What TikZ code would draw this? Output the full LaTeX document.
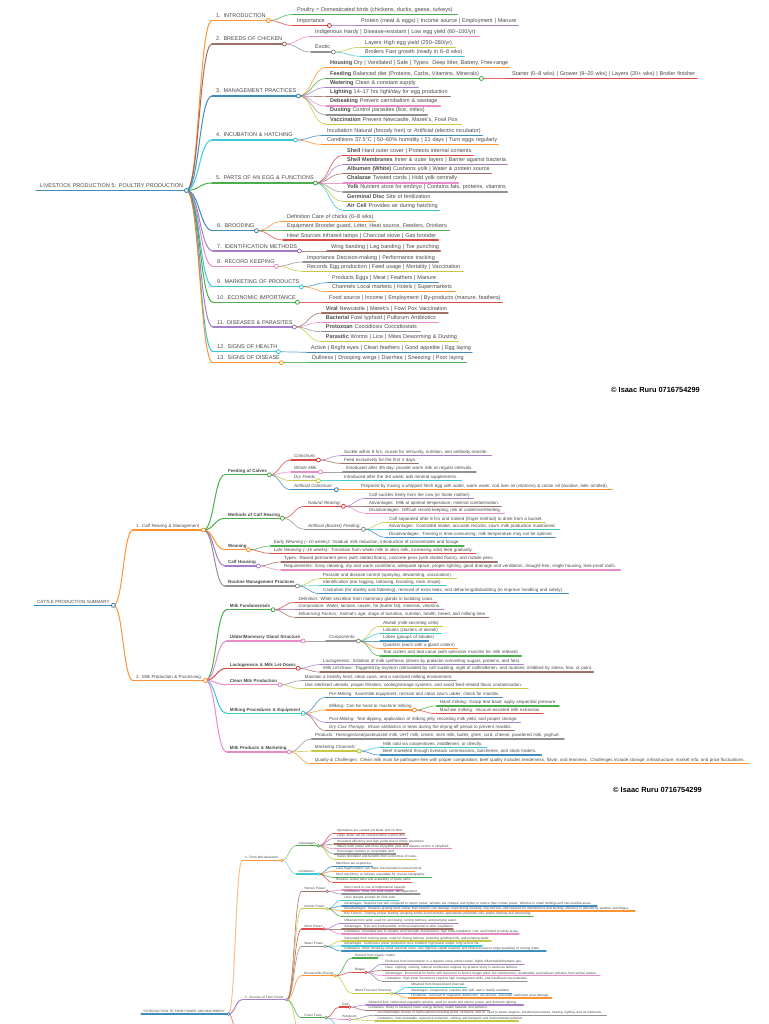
\documentclass[tikz,border=0pt]{standalone}
\usepackage{fontspec}
\setmainfont{Liberation Sans}
\usetikzlibrary{calc}
\definecolor{cOrange}{HTML}{FF7F0E}
\definecolor{cGreen}{HTML}{2CA02C}
\definecolor{cRed}{HTML}{D62728}
\definecolor{cPurple}{HTML}{9467BD}
\definecolor{cBrown}{HTML}{8C564B}
\definecolor{cPink}{HTML}{E377C2}
\definecolor{cGray}{HTML}{7F7F7F}
\definecolor{cYellow}{HTML}{BCBD22}
\definecolor{cCyan}{HTML}{17BECF}
\definecolor{cBlue}{HTML}{1F77B4}
\tikzset{
  lbl/.style={anchor=south west,inner xsep=0pt,text=black!72,
    execute at begin node={\noindent\kern#1pt\hbox\bgroup},execute at end node=\egroup},
  lblA/.style={lbl=4,font=\fontsize{5.5}{6}\selectfont,text depth=1.2pt,inner ysep=1.6pt},
  lblB/.style={lbl=3,font=\fontsize{4.45}{5}\selectfont,text depth=.9pt,inner ysep=1.2pt},
  lblC/.style={lbl=2.5,font=\fontsize{3.2}{4}\selectfont,text depth=.7pt,inner ysep=.7pt},
  rule/.style={line width=1.1pt,line cap=round,opacity=.85},
  item/.style 2 args={text width=#1pt,
    append after command={(\tikzlastnode.south west) edge[rule,#2] (\tikzlastnode.south east)}},
  link/.style={line width=.7pt,opacity=.7,to path={let \p1=(\tikztostart),\p2=(\tikztotarget) in
    .. controls ({.5*(\x1+\x2)},\y1) and ({.5*(\x1+\x2)},\y2) .. (\tikztotarget)}},
  linkTop/.style={link,line width=1pt,opacity=.85},
  knot/.style={circle,fill=white,line width=.7pt,inner sep=0pt,minimum size=4pt},
  knotC/.style={knot,line width=.5pt,minimum size=2.8pt},
  mark line/.style={anchor=west,font=\fontsize{7.4}{8}\selectfont\bfseries,inner sep=0pt}
}
\begin{document}
\begin{tikzpicture}[x=1pt,y=-1pt]
  \useasboundingbox (0,0) rectangle (768,1024);
  \clip (0,0) rectangle (768,1024);
  % poultry
  \begin{scope}[every node/.append style={lblA}]
    \node[item={150}{cBlue}] (p0) at (36,190.5) {LIVESTOCK PRODUCTION 5: POULTRY PRODUCTION};
    \node[item={56}{cOrange}] (p1) at (212,20.5) {1. INTRODUCTION};
    \node[item={164}{cGreen}] (p1a) at (293,14.5) {Poultry = Domesticated birds (chickens, ducks, geese, turkeys)};
    \node[item={36}{cRed}] (p1b) at (293,25.5) {Importance};
    \node[item={161}{cPurple}] (p1b1) at (357,25.5) {Protein (meat \& eggs) | Income source | Employment | Manure};
    \node[item={72}{cBrown}] (p2) at (212,44) {2. BREEDS OF CHICKEN};
    \node[item={168}{cPink}] (p2a) at (311,36.5) {Indigenous Hardy | Disease-resistant | Low egg yield (60–100/yr)};
    \node[item={22}{cGray}] (p2b) at (311,52) {Exotic};
    \node[item={94}{cYellow}] (p2b1) at (361,47.3) {Layers High egg yield (250–280/yr)};
    \node[item={103}{cCyan}] (p2b2) at (361,56.3) {Broilers Fast growth (ready in 6–8 wks)};
    \node[item={86}{cBlue}] (p3) at (212,96) {3. MANAGEMENT PRACTICES};
    \node[item={183}{cOrange}] (p3a) at (326,67.5) {\textbf{Housing} Dry | Ventilated | Safe | Types: Deep litter, Battery, Free-range};
    \node[item={155}{cGreen}] (p3b) at (326,78.5) {\textbf{Feeding} Balanced diet (Proteins, Carbs, Vitamins, Minerals)};
    \node[item={189}{cRed}] (p3b1) at (508,78.5) {Starter (0–8 wks) | Grower (9–20 wks) | Layers (20+ wks) | Broiler finisher};
    \node[item={92}{cPurple}] (p3c) at (326,87.5) {\textbf{Watering} Clean \& constant supply};
    \node[item={124}{cBrown}] (p3d) at (326,96.7) {\textbf{Lighting} 14–17 hrs light/day for egg production};
    \node[item={114}{cPink}] (p3e) at (326,106) {\textbf{Debeaking} Prevent cannibalism \& wastage};
    \node[item={101}{cGray}] (p3f) at (326,115) {\textbf{Dusting} Control parasites (lice, mites)};
    \node[item={135}{cYellow}] (p3g) at (326,124.3) {\textbf{Vaccination} Prevent Newcastle, Marek's, Fowl Pox};
    \node[item={83}{cCyan}] (p4) at (212,140) {4. INCUBATION \& HATCHING};
    \node[item={159}{cBlue}] (p4a) at (323,135.5) {Incubation Natural (broody hen) or Artificial (electric incubator)};
    \node[item={175}{cOrange}] (p4b) at (323,144.5) {Conditions 37.5°C | 50–60\% humidity | 21 days | Turn eggs regularly};
    \node[item={103}{cGreen}] (p5) at (212,183) {5. PARTS OF AN EGG \& FUNCTIONS};
    \node[item={130}{cRed}] (p5a) at (343,155.3) {\textbf{Shell} Hard outer cover | Protects internal contents};
    \node[item={164}{cPurple}] (p5b) at (343,164.7) {\textbf{Shell Membranes} Inner \& outer layers | Barrier against bacteria};
    \node[item={148}{cBrown}] (p5c) at (343,173.7) {\textbf{Albumen (White)} Cushions yolk | Water \& protein source};
    \node[item={115}{cPink}] (p5d) at (343,183) {\textbf{Chalazae} Twisted cords | Hold yolk centrally};
    \node[item={164}{cGray}] (p5e) at (343,192) {\textbf{Yolk} Nutrient store for embryo | Contains fats, proteins, vitamins};
    \node[item={89}{cYellow}] (p5f) at (343,201.3) {\textbf{Germinal Disc} Site of fertilization};
    \node[item={96}{cCyan}] (p5g) at (343,210.3) {\textbf{Air Cell} Provides air during hatching};
    \node[item={43}{cBlue}] (p6) at (213,230.7) {6. BROODING};
    \node[item={92}{cOrange}] (p6a) at (283,221.3) {Definition Care of chicks (0–8 wks)};
    \node[item={166}{cGreen}] (p6b) at (283,230.7) {Equipment Brooder guard, Litter, Heat source, Feeders, Drinkers};
    \node[item={155}{cRed}] (p6c) at (283,240) {Heat Sources Infrared lamps | Charcoal stove | Gas brooder};
    \node[item={86}{cPurple}] (p7) at (213,251) {7. IDENTIFICATION METHODS};
    \node[item={113}{cBrown}] (p7a) at (327,251) {Wing banding | Leg banding | Toe punching};
    \node[item={63}{cPink}] (p8) at (213,266.3) {8. RECORD KEEPING};
    \node[item={135}{cGray}] (p8a) at (303,262) {Importance Decision-making | Performance tracking};
    \node[item={160}{cYellow}] (p8b) at (303,271.3) {Records Egg production | Feed usage | Mortality | Vaccination};
    \node[item={88}{cCyan}] (p9) at (213,286.7) {9. MARKETING OF PRODUCTS};
    \node[item={110}{cBlue}] (p9a) at (328,282.7) {Products Eggs | Meat | Feathers | Manure};
    \node[item={127}{cOrange}] (p9b) at (328,291.7) {Channels Local markets | Hotels | Supermarkets};
    \node[item={84}{cGreen}] (p10) at (213,302.3) {10. ECONOMIC IMPORTANCE};
    \node[item={177}{cRed}] (p10a) at (325,302.3) {Food source | Income | Employment | By-products (manure, feathers)};
    \node[item={81}{cPurple}] (p11) at (213,327) {11. DISEASES \& PARASITES};
    \node[item={126}{cBrown}] (p11a) at (321.7,313) {\textbf{Viral} Newcastle | Marek's | Fowl Pox Vaccination};
    \node[item={116}{cPink}] (p11b) at (321.7,322.3) {\textbf{Bacterial} Fowl typhoid | Pullorum Antibiotics};
    \node[item={98}{cGray}] (p11c) at (321.7,331.7) {\textbf{Protozoan} Coccidiosis Coccidiostats};
    \node[item={136}{cYellow}] (p11d) at (321.7,341.7) {\textbf{Parasitic} Worms | Lice | Mites Deworming \& Dusting};
    \node[item={65}{cCyan}] (p12) at (213,351.7) {12. SIGNS OF HEALTH};
    \node[item={165}{cBlue}] (p12a) at (306.7,352.3) {Active | Bright eyes | Clean feathers | Good appetite | Egg laying};
    \node[item={68}{cOrange}] (p13) at (213,362.7) {13. SIGNS OF DISEASE};
    \node[item={158}{cGreen}] (p13a) at (308,362.7) {Dullness | Drooping wings | Diarrhea | Sneezing | Poor laying};
  \end{scope}
  \node[mark line] (m1) at (611,389.5) {© Isaac Ruru 0716754299};
  \begin{scope}
    \draw[linkTop,cOrange] (p0.south east) to (p1.south west);
    \draw[linkTop,cBrown] (p0.south east) to (p2.south west);
    \draw[linkTop,cBlue] (p0.south east) to (p3.south west);
    \draw[linkTop,cCyan] (p0.south east) to (p4.south west);
    \draw[linkTop,cGreen] (p0.south east) to (p5.south west);
    \draw[linkTop,cBlue] (p0.south east) to (p6.south west);
    \draw[linkTop,cPurple] (p0.south east) to (p7.south west);
    \draw[linkTop,cPink] (p0.south east) to (p8.south west);
    \draw[linkTop,cCyan] (p0.south east) to (p9.south west);
    \draw[linkTop,cGreen] (p0.south east) to (p10.south west);
    \draw[linkTop,cPurple] (p0.south east) to (p11.south west);
    \draw[linkTop,cCyan] (p0.south east) to (p12.south west);
    \draw[linkTop,cOrange] (p0.south east) to (p13.south west);
    \draw[link,cGreen] (p1.south east) to (p1a.south west);
    \draw[link,cRed] (p1.south east) to (p1b.south west);
    \draw[link,cPurple] (p1b.south east) to (p1b1.south west);
    \draw[link,cPink] (p2.south east) to (p2a.south west);
    \draw[link,cGray] (p2.south east) to (p2b.south west);
    \draw[link,cYellow] (p2b.south east) to (p2b1.south west);
    \draw[link,cCyan] (p2b.south east) to (p2b2.south west);
    \draw[link,cOrange] (p3.south east) to (p3a.south west);
    \draw[link,cGreen] (p3.south east) to (p3b.south west);
    \draw[link,cRed] (p3b.south east) to (p3b1.south west);
    \draw[link,cPurple] (p3.south east) to (p3c.south west);
    \draw[link,cBrown] (p3.south east) to (p3d.south west);
    \draw[link,cPink] (p3.south east) to (p3e.south west);
    \draw[link,cGray] (p3.south east) to (p3f.south west);
    \draw[link,cYellow] (p3.south east) to (p3g.south west);
    \draw[link,cBlue] (p4.south east) to (p4a.south west);
    \draw[link,cOrange] (p4.south east) to (p4b.south west);
    \draw[link,cRed] (p5.south east) to (p5a.south west);
    \draw[link,cPurple] (p5.south east) to (p5b.south west);
    \draw[link,cBrown] (p5.south east) to (p5c.south west);
    \draw[link,cPink] (p5.south east) to (p5d.south west);
    \draw[link,cGray] (p5.south east) to (p5e.south west);
    \draw[link,cYellow] (p5.south east) to (p5f.south west);
    \draw[link,cCyan] (p5.south east) to (p5g.south west);
    \draw[link,cOrange] (p6.south east) to (p6a.south west);
    \draw[link,cGreen] (p6.south east) to (p6b.south west);
    \draw[link,cRed] (p6.south east) to (p6c.south west);
    \draw[link,cBrown] (p7.south east) to (p7a.south west);
    \draw[link,cGray] (p8.south east) to (p8a.south west);
    \draw[link,cYellow] (p8.south east) to (p8b.south west);
    \draw[link,cBlue] (p9.south east) to (p9a.south west);
    \draw[link,cOrange] (p9.south east) to (p9b.south west);
    \draw[link,cRed] (p10.south east) to (p10a.south west);
    \draw[link,cBrown] (p11.south east) to (p11a.south west);
    \draw[link,cPink] (p11.south east) to (p11b.south west);
    \draw[link,cGray] (p11.south east) to (p11c.south west);
    \draw[link,cYellow] (p11.south east) to (p11d.south west);
    \draw[link,cBlue] (p12.south east) to (p12a.south west);
    \draw[link,cGreen] (p13.south east) to (p13a.south west);
  \end{scope}
  % cattle
  \begin{scope}[every node/.append style={lblB}]
    \node[item={79}{cBlue}] (c0) at (34,605.3) {CATTLE PRODUCTION SUMMARY};
    \node[item={70}{cOrange}] (c1) at (133,530) {1. Calf Rearing \& Management};
    \node[item={72}{cOrange}] (c2) at (133,680.5) {2. Milk Production \& Processing};
    \node[item={44}{cGreen}] (c1a) at (225,474.7) {\textbf{Feeding of Calves}};
    \node[item={27}{cRed}] (c1a1) at (291,460) {\textit{Colostrum:}};
    \node[item={150}{cPurple}] (c1a1a) at (341,455.7) {Suckle within 8 hrs; crucial for immunity, nutrition, and antibody transfer.};
    \node[item={77}{cBrown}] (c1a1b) at (341,463.3) {Feed exclusively for the first 4 days.};
    \node[item={29}{cPink}] (c1a2) at (291,472) {\textit{Whole Milk:}};
    \node[item={133}{cGray}] (c1a2a) at (342.7,472) {Introduced after 4th day; provide warm milk at regular intervals.};
    \node[item={27}{cYellow}] (c1a3) at (291,480.7) {\textit{Dry Feeds:}};
    \node[item={120}{cCyan}] (c1a3a) at (341,480.7) {Introduced after the 3rd week; add mineral supplements.};
    \node[item={45}{cBlue}] (c1a4) at (291,489.7) {\textit{Artificial Colostrum:}};
    \node[item={254}{cOrange}] (c1a4a) at (358,489.7) {Prepared by mixing a whipped fresh egg with water, warm water, cod liver oil (vitamins) \& castor oil (laxative, later omitted).};
    \node[item={57}{cGreen}] (c1b) at (225,518.3) {\textbf{Methods of Calf Rearing}};
    \node[item={38}{cRed}] (c1b1) at (305,506.3) {\textit{Natural Rearing:}};
    \node[item={107}{cPurple}] (c1b1a) at (366,498.3) {Calf suckles freely from the cow (or foster mother).};
    \node[item={135}{cBrown}] (c1b1b) at (366,506.3) {Advantages: Milk at optimal temperature; minimal contamination.};
    \node[item={138}{cPink}] (c1b1c) at (366,513.3) {Disadvantages: Difficult record-keeping; risk of under/overfeeding.};
    \node[item={58}{cGray}] (c1b2) at (305,529.3) {\textit{Artificial (Bucket) Feeding:}};
    \node[item={159}{cYellow}] (c1b2a) at (386,522.3) {Calf separated after 6 hrs and trained (finger method) to drink from a bucket.};
    \node[item={173}{cCyan}] (c1b2b) at (386,529.3) {Advantages: Controlled intake; accurate records; cow's milk production maintained.};
    \node[item={169}{cBlue}] (c1b2c) at (386,537.3) {Disadvantages: Training is time-consuming; milk temperature may not be optimal.};
    \node[item={23}{cOrange}] (c1c) at (225,549.7) {\textbf{Weaning}};
    \node[item={193}{cGreen}] (c1c1) at (270.7,546) {\textit{Early Weaning (\textasciitilde10 weeks):} Gradual milk reduction; introduction of concentrates and forage.};
    \node[item={205}{cRed}] (c1c2) at (270.7,553.3) {\textit{Late Weaning (\textasciitilde16 weeks):} Transition from whole milk to skim milk; increasing solid feed gradually.};
    \node[item={33}{cPurple}] (c1d) at (225,566) {\textbf{Calf Housing}};
    \node[item={216}{cBrown}] (c1d1) at (281,562) {Types: Raised permanent pens (with slatted floors), concrete pens (with slatted floors), and mobile pens.};
    \node[item={339}{cPink}] (c1d2) at (281,570) {Requirements: Easy cleaning, dry and warm conditions, adequate space, proper lighting, good drainage and ventilation, draught-free, single housing, leak-proof roofs.};
    \node[item={72}{cGray}] (c1e) at (225,586) {\textbf{Routine Management Practices}};
    \node[item={136}{cYellow}] (c1e1) at (320,578.7) {Parasite and disease control (spraying, deworming, vaccination).};
    \node[item={126}{cCyan}] (c1e2) at (320,585.7) {Identification (ear tagging, tattooing, branding, neck straps).};
    \node[item={248}{cBlue}] (c1e3) at (320,593.7) {Castration (for docility and fattening), removal of extra teats, and dehorning/disbudding (to improve handling and safety).};
    \node[item={46}{cGreen}] (c2a) at (226.7,609.7) {\textbf{Milk Fundamentals}};
    \node[item={141}{cRed}] (c2a1) at (295.3,602.3) {\textit{Definition:} White secretion from mammary glands in lactating cows.};
    \node[item={148}{cPurple}] (c2a2) at (295.3,609.7) {\textit{Composition:} Water, lactose, casein, fat (butter fat), minerals, vitamins.};
    \node[item={193}{cBrown}] (c2a3) at (295.3,617.3) {\textit{Influencing Factors:} Animal's age, stage of lactation, nutrition, health, breed, and milking time.};
    \node[item={76}{cPink}] (c2b) at (226.7,641) {\textbf{Udder/Mammary Gland Structure}};
    \node[item={32}{cGray}] (c2b1) at (326,641) {\textit{Components:}};
    \node[item={62}{cYellow}] (c2b1a) at (380,626.3) {Alveoli (milk-secreting cells)};
    \node[item={61}{cCyan}] (c2b1b) at (380,633.7) {Lobules (clusters of alveoli)};
    \node[item={48}{cBlue}] (c2b1c) at (380,641) {Lobes (groups of lobules)};
    \node[item={77}{cOrange}] (c2b1d) at (380,648.7) {Quarters (each with a gland cistern)};
    \node[item={141}{cGreen}] (c2b1e) at (380,656) {Teat cistern and teat canal (with sphincter muscles for milk release)};
    \node[item={71}{cRed}] (c2c) at (226.7,668.3) {\textbf{Lactogenesis \& Milk Let-Down:}};
    \node[item={203}{cPurple}] (c2c1) at (320,664.7) {\textit{Lactogenesis:} Initiation of milk synthesis (driven by prolactin converting sugars, proteins, and fats).};
    \node[item={273}{cBrown}] (c2c2) at (320,672) {\textit{Milk Let-Down:} Triggered by oxytocin (stimulated by calf suckling, sight of calf/milkmen, and routines; inhibited by stress, fear, or pain).};
    \node[item={53}{cPink}] (c2d) at (226.7,684.7) {\textbf{Clean Milk Production}};
    \node[item={154}{cGray}] (c2d1) at (301.7,680.7) {Maintain a healthy herd, clean cows, and a sanitized milking environment.};
    \node[item={226}{cYellow}] (c2d2) at (301.7,688.7) {Use sterilized utensils, proper filtration, cooling/storage systems, and avoid feed-related flavor contamination.};
    \node[item={76}{cCyan}] (c2e) at (226.7,713.3) {\textbf{Milking Procedures \& Equipment}};
    \node[item={176}{cBlue}] (c2e1) at (326,697.3) {\textit{Pre-Milking:} Assemble equipment; restrain and clean cow's udder; check for mastitis.};
    \node[item={88}{cOrange}] (c2e2) at (326,710) {\textit{Milking:} Can be hand or machine milking.};
    \node[item={122}{cGreen}] (c2e2a) at (436.7,706) {Hand milking: Grasp teat base; apply sequential pressure.};
    \node[item={106}{cRed}] (c2e2b) at (436.7,713.7) {Machine milking: Vacuum-assisted milk extraction.};
    \node[item={194}{cPurple}] (c2e3) at (326,722.3) {\textit{Post-Milking:} Teat dipping, application of milking jelly, recording milk yield, and proper storage.};
    \node[item={188}{cBrown}] (c2e4) at (326,730.7) {\textit{Dry Cow Therapy:} Infuse antibiotics in teats during the drying-off period to prevent mastitis.};
    \node[item={62}{cPink}] (c2f) at (226.7,752) {\textbf{Milk Products \& Marketing}};
    \node[item={252}{cGray}] (c2f1) at (311.7,739) {\textit{Products:} Homogenized/pasteurized milk, UHT milk, cream, skim milk, butter, ghee, curd, cheese, powdered milk, yoghurt.};
    \node[item={47}{cYellow}] (c2f2) at (311.7,751) {\textit{Marketing Channels:}};
    \node[item={106}{cCyan}] (c2f2a) at (380,747.7) {Milk sold via cooperatives, middlemen, or directly.};
    \node[item={161}{cBlue}] (c2f2b) at (380,755) {Beef marketed through livestock commissions, butcheries, and stock traders.};
    \node[item={437}{cOrange}] (c2f3) at (311.7,763.7) {\textit{Quality \& Challenges:} Clean milk must be pathogen-free with proper composition; beef quality includes tenderness, flavor, and leanness. Challenges include storage, infrastructure, market info, and price fluctuations.};
  \end{scope}
  \node[mark line] (m2) at (613,789.5) {© Isaac Ruru 0716754299};
  \begin{scope}
    \draw[linkTop,cOrange] (c0.south east) to (c1.south west);
    \draw[linkTop,cOrange] (c0.south east) to (c2.south west);
    \draw[linkTop,cGreen] (c1.south east) to (c1a.south west);
    \draw[link,cRed] (c1a.south east) to (c1a1.south west);
    \draw[link,cPurple] (c1a1.south east) to (c1a1a.south west);
    \draw[link,cBrown] (c1a1.south east) to (c1a1b.south west);
    \draw[link,cPink] (c1a.south east) to (c1a2.south west);
    \draw[link,cGray] (c1a2.south east) to (c1a2a.south west);
    \draw[link,cYellow] (c1a.south east) to (c1a3.south west);
    \draw[link,cCyan] (c1a3.south east) to (c1a3a.south west);
    \draw[link,cBlue] (c1a.south east) to (c1a4.south west);
    \draw[link,cOrange] (c1a4.south east) to (c1a4a.south west);
    \draw[linkTop,cGreen] (c1.south east) to (c1b.south west);
    \draw[link,cRed] (c1b.south east) to (c1b1.south west);
    \draw[link,cPurple] (c1b1.south east) to (c1b1a.south west);
    \draw[link,cBrown] (c1b1.south east) to (c1b1b.south west);
    \draw[link,cPink] (c1b1.south east) to (c1b1c.south west);
    \draw[link,cGray] (c1b.south east) to (c1b2.south west);
    \draw[link,cYellow] (c1b2.south east) to (c1b2a.south west);
    \draw[link,cCyan] (c1b2.south east) to (c1b2b.south west);
    \draw[link,cBlue] (c1b2.south east) to (c1b2c.south west);
    \draw[linkTop,cOrange] (c1.south east) to (c1c.south west);
    \draw[link,cGreen] (c1c.south east) to (c1c1.south west);
    \draw[link,cRed] (c1c.south east) to (c1c2.south west);
    \draw[linkTop,cPurple] (c1.south east) to (c1d.south west);
    \draw[link,cBrown] (c1d.south east) to (c1d1.south west);
    \draw[link,cPink] (c1d.south east) to (c1d2.south west);
    \draw[linkTop,cGray] (c1.south east) to (c1e.south west);
    \draw[link,cYellow] (c1e.south east) to (c1e1.south west);
    \draw[link,cCyan] (c1e.south east) to (c1e2.south west);
    \draw[link,cBlue] (c1e.south east) to (c1e3.south west);
    \draw[linkTop,cGreen] (c2.south east) to (c2a.south west);
    \draw[link,cRed] (c2a.south east) to (c2a1.south west);
    \draw[link,cPurple] (c2a.south east) to (c2a2.south west);
    \draw[link,cBrown] (c2a.south east) to (c2a3.south west);
    \draw[linkTop,cPink] (c2.south east) to (c2b.south west);
    \draw[link,cGray] (c2b.south east) to (c2b1.south west);
    \draw[link,cYellow] (c2b1.south east) to (c2b1a.south west);
    \draw[link,cCyan] (c2b1.south east) to (c2b1b.south west);
    \draw[link,cBlue] (c2b1.south east) to (c2b1c.south west);
    \draw[link,cOrange] (c2b1.south east) to (c2b1d.south west);
    \draw[link,cGreen] (c2b1.south east) to (c2b1e.south west);
    \draw[linkTop,cRed] (c2.south east) to (c2c.south west);
    \draw[link,cPurple] (c2c.south east) to (c2c1.south west);
    \draw[link,cBrown] (c2c.south east) to (c2c2.south west);
    \draw[linkTop,cPink] (c2.south east) to (c2d.south west);
    \draw[link,cGray] (c2d.south east) to (c2d1.south west);
    \draw[link,cYellow] (c2d.south east) to (c2d2.south west);
    \draw[linkTop,cCyan] (c2.south east) to (c2e.south west);
    \draw[link,cBlue] (c2e.south east) to (c2e1.south west);
    \draw[link,cOrange] (c2e.south east) to (c2e2.south west);
    \draw[link,cGreen] (c2e2.south east) to (c2e2a.south west);
    \draw[link,cRed] (c2e2.south east) to (c2e2b.south west);
    \draw[link,cPurple] (c2e.south east) to (c2e3.south west);
    \draw[link,cBrown] (c2e.south east) to (c2e4.south west);
    \draw[linkTop,cPink] (c2.south east) to (c2f.south west);
    \draw[link,cGray] (c2f.south east) to (c2f1.south west);
    \draw[link,cYellow] (c2f.south east) to (c2f2.south west);
    \draw[link,cCyan] (c2f2.south east) to (c2f2a.south west);
    \draw[link,cBlue] (c2f2.south east) to (c2f2b.south west);
    \draw[link,cOrange] (c2f.south east) to (c2f3.south west);
  \end{scope}
  % farm power
  \begin{scope}[every node/.append style={lblC}]
    \node[item={87}{cBlue}] (f0) at (141,1014) {INTRODUCTION TO FARM POWER AND MACHINERY};
    \node[item={39}{cOrange}] (f1) at (242.3,860.3) {1. Farm Mechanization};
    \node[item={44}{cPurple}] (f2) at (242.3,999.7) {2. Sources of Farm Power};
    \node[item={22}{cGreen}] (f1a) at (296,845.7) {Advantages:};
    \node[item={70}{cRed}] (f1a1) at (334.3,833.3) {Operations are carried out faster and on time.};
    \node[item={72}{cPurple}] (f1a2) at (334.3,838.3) {Large areas can be covered within a short time.};
    \node[item={74}{cBrown}] (f1a3) at (334.3,844) {Increased efficiency and high yields due to timely operations.};
    \node[item={117}{cPink}] (f1a4) at (334.3,848.7) {Makes work easier and more enjoyable; pest and disease control is simplified.};
    \node[item={61}{cGray}] (f1a5) at (334.3,854) {Encourages farmers to consolidate land.};
    \node[item={82}{cYellow}] (f1a6) at (334.3,859.3) {Saves time/labor and benefits from economies of scale.};
    \node[item={22}{cCyan}] (f1b) at (296,874) {Limitations:};
    \node[item={39}{cBlue}] (f1b1) at (333.3,866.3) {Machines are expensive.};
    \node[item={81}{cOrange}] (f1b2) at (333.3,871.3) {Land fragmentation can make mechanization uneconomical.};
    \node[item={98}{cGreen}] (f1b3) at (333.3,877.3) {Most machinery on farmers unsuitable for uneven topography.};
    \node[item={78}{cRed}] (f1b4) at (333.3,882.3) {Requires skilled labor and availability of spare parts.};
    \node[item={25}{cBrown}] (f2a) at (301.7,891.3) {Human Power:};
    \node[item={61}{cPink}] (f2a1) at (341.7,890) {Direct work or use of implemental capacity.};
    \node[item={78}{cGray}] (f2a2) at (341.7,894) {Limitations: Slow, low work output, skill dependent.};
    \node[item={25}{cYellow}] (f2b) at (301.7,908.7) {Animal Power:};
    \node[item={57}{cCyan}] (f2b1) at (341.7,900.3) {Uses draught animals for field work.};
    \node[item={255}{cBlue}] (f2b2) at (341.7,906) {Advantages: Requires low skill compared to tractor power; animals are cheaper and lighter to reduce than human power; effective in small holdings and inaccessible areas.};
    \node[item={293}{cOrange}] (f2b3) at (341.7,911) {Disadvantages: Requires grazing land; slower than tractors; can damage crops during weeding; may fall sick; and required for maintenance and feeding; efficiency is affected by weather and fatigue.};
    \node[item={191}{cGreen}] (f2b4) at (341.7,916.3) {Key Factors: Training, proper feeding, grouping similar-sized animals, appropriate yoke/hitch size, proper hitching and harnessing.};
    \node[item={22}{cRed}] (f2c) at (301.7,929) {Wind Power:};
    \node[item={116}{cPurple}] (f2c1) at (341.7,923.3) {Obtained from wind; used for winnowing, turning turbines, and pumping water.};
    \node[item={111}{cBrown}] (f2c2) at (341.7,929) {Advantages: Free and inexhaustible; minimal maintenance after installation.};
    \node[item={177}{cPink}] (f2c3) at (341.7,934) {Limitations: Unreliable due to variable wind strength and direction; high initial installation cost; and limited to windy areas.};
    \node[item={23}{cGray}] (f2d) at (301.7,946.3) {Water Power:};
    \node[item={149}{cYellow}] (f2d1) at (341.7,941) {Generated from running water; used for driving turbines, powering grinding mills, and pumping water.};
    \node[item={140}{cCyan}] (f2d2) at (341.7,946) {Advantages: Continuous power production once installed; high power output; long service life.};
    \node[item={204}{cBlue}] (f2d3) at (341.7,951) {Limitations: Often limited by small seasonal rivers; very high/low capital required; and limited access to large quantities of moving water.};
    \node[item={33}{cOrange}] (f2e) at (301.7,975.7) {Biomass/Bio-Energy:};
    \node[item={25}{cGreen}] (f2e1) at (352.3,958) {Derived from organic matter};
    \node[item={13}{cRed}] (f2e2) at (352.3,972.3) {Biogas:};
    \node[item={141}{cPurple}] (f2e2a) at (382.7,964.3) {Produced from fermentation in a digester using animal waste; highly inflammable/methane gas.};
    \node[item={137}{cBrown}] (f2e2b) at (382.7,970.3) {Uses: Lighting, cooking, internal combustion engines; by-product slurry is useful as fertilizer.};
    \node[item={217}{cPink}] (f2e2c) at (382.7,975.7) {Advantages: Economical for farms with resources to build a biogas plant; low maintenance; sustainable; and reduces pollution from animal wastes.};
    \node[item={144}{cGray}] (f2e2d) at (382.7,981.3) {Limitations: High initial investment; requires high management skills, and insufficient raw materials.};
    \node[item={39}{cYellow}] (f2e3) at (352.3,993.3) {Wood Fuel and Charcoal:};
    \node[item={58}{cCyan}] (f2e3a) at (408.3,987.3) {Obtained from firewood and charcoal.};
    \node[item={103}{cBlue}] (f2e3b) at (408.3,993.3) {Advantages: Inexpensive; requires less skill, and is readily available.};
    \node[item={143}{cOrange}] (f2e3c) at (408.3,998) {Limitations: Can lead to vegetation destruction, soil erosion, and water catchment area damage.};
    \node[item={24}{cGreen}] (f2f) at (301.7,1017.7) {Fossil Fuels:};
    \node[item={10}{cRed}] (f2f1) at (339.3,1007) {Coal:};
    \node[item={157}{cPurple}] (f2f1a) at (366,1005) {Obtained from carbonized vegetable remains; used for steam and electric power, and domestic lighting.};
    \node[item={123}{cBrown}] (f2f1b) at (366,1010.3) {Limitations: Bulky to transport; lower energy density; health hazards; and pollution.};
    \node[item={10}{cPink}] (f2f2) at (339.3,1019.3) {Petroleum:};
    \node[item={231}{cGray}] (f2f2a) at (375,1015.3) {An inflammable mixture of hydrocarbons including petrol, kerosene, and oil, used to power engines, industrial processes, heating, lighting, and as lubricants.};
    \node[item={143}{cYellow}] (f2f2b) at (375,1021) {Limitations: Non-renewable, expensive extraction, refining and transport; and environmental pollution.};
  \end{scope}
  \coordinate (fa) at (240,1044);
  \coordinate (fb) at (304,1044);
  \coordinate (fc) at (344,1032);
  \begin{scope}
    \draw[linkTop,cOrange!60] (f0.south east) to (f1.south west);
    \draw[linkTop,cPurple] (f0.south east) to (f2.south west);
    \draw[linkTop,cRed!60] (f0.south east) to (fa);
    \draw[link,cGreen!70] (f1.south east) to (f1a.south west);
    \draw[link,cCyan!70] (f1.south east) to (f1b.south west);
    \draw[link,cRed] (f1a.south east) to (f1a1.south west);
    \draw[link,cPurple] (f1a.south east) to (f1a2.south west);
    \draw[link,cBrown] (f1a.south east) to (f1a3.south west);
    \draw[link,cPink] (f1a.south east) to (f1a4.south west);
    \draw[link,cGray] (f1a.south east) to (f1a5.south west);
    \draw[link,cYellow] (f1a.south east) to (f1a6.south west);
    \draw[link,cBlue] (f1b.south east) to (f1b1.south west);
    \draw[link,cOrange] (f1b.south east) to (f1b2.south west);
    \draw[link,cGreen] (f1b.south east) to (f1b3.south west);
    \draw[link,cRed] (f1b.south east) to (f1b4.south west);
    \draw[link,cBrown] (f2.south east) to (f2a.south west);
    \draw[link,cPink] (f2a.south east) to (f2a1.south west);
    \draw[link,cGray] (f2a.south east) to (f2a2.south west);
    \draw[link,cYellow] (f2.south east) to (f2b.south west);
    \draw[link,cCyan] (f2b.south east) to (f2b1.south west);
    \draw[link,cBlue] (f2b.south east) to (f2b2.south west);
    \draw[link,cOrange] (f2b.south east) to (f2b3.south west);
    \draw[link,cGreen] (f2b.south east) to (f2b4.south west);
    \draw[link,cRed] (f2.south east) to (f2c.south west);
    \draw[link,cPurple] (f2c.south east) to (f2c1.south west);
    \draw[link,cBrown] (f2c.south east) to (f2c2.south west);
    \draw[link,cPink] (f2c.south east) to (f2c3.south west);
    \draw[link,cGray] (f2.south east) to (f2d.south west);
    \draw[link,cYellow] (f2d.south east) to (f2d1.south west);
    \draw[link,cCyan] (f2d.south east) to (f2d2.south west);
    \draw[link,cBlue] (f2d.south east) to (f2d3.south west);
    \draw[link,cOrange] (f2.south east) to (f2e.south west);
    \draw[link,cGreen] (f2e.south east) to (f2e1.south west);
    \draw[link,cRed] (f2e.south east) to (f2e2.south west);
    \draw[link,cPurple] (f2e2.south east) to (f2e2a.south west);
    \draw[link,cBrown] (f2e2.south east) to (f2e2b.south west);
    \draw[link,cPink] (f2e2.south east) to (f2e2c.south west);
    \draw[link,cGray] (f2e2.south east) to (f2e2d.south west);
    \draw[link,cYellow] (f2e.south east) to (f2e3.south west);
    \draw[link,cCyan] (f2e3.south east) to (f2e3a.south west);
    \draw[link,cBlue] (f2e3.south east) to (f2e3b.south west);
    \draw[link,cOrange] (f2e3.south east) to (f2e3c.south west);
    \draw[link,cGreen] (f2.south east) to (f2f.south west);
    \draw[link,cRed] (f2f.south east) to (f2f1.south west);
    \draw[link,cPurple] (f2f1.south east) to (f2f1a.south west);
    \draw[link,cBrown] (f2f1.south east) to (f2f1b.south west);
    \draw[link,cPink] (f2f.south east) to (f2f2.south west);
    \draw[link,cGray] (f2f2.south east) to (f2f2a.south west);
    \draw[link,cYellow] (f2f2.south east) to (f2f2b.south west);
    \draw[link,cCyan] (f2f.south east) to (fc);
    \draw[link,cYellow] (f2.south east) to (fb);
  \end{scope}
  % circles go last so that they sit on the lines
  \foreach \n/\c in {p0/cBlue,p1/cOrange,p1b/cRed,p2/cBrown,p2b/cGray,p3/cBlue,p3b/cGreen,p4/cCyan,p5/cGreen,p6/cBlue,p7/cPurple,p8/cPink,p9/cCyan,p10/cGreen,p11/cPurple,p12/cCyan,p13/cOrange,
      c0/cBlue,c1/cOrange,c2/cOrange,c1a/cGreen,c1a1/cRed,c1a2/cPink,c1a3/cYellow,c1a4/cBlue,c1b/cGreen,c1b1/cRed,c1b2/cGray,c1c/cOrange,c1d/cPurple,c1e/cGray,c2a/cGreen,c2b/cPink,c2b1/cGray,c2c/cRed,c2d/cPink,c2e/cCyan,c2e2/cOrange,c2f/cPink,c2f2/cYellow}
    \node[knot,draw=\c] (k\n) at (\n.south east) {};
  \foreach \n/\c in {f0/cBlue,f1/cOrange,f2/cPurple,f1a/cGreen,f1b/cCyan,f2a/cBrown,f2b/cYellow,f2c/cRed,f2d/cGray,f2e/cOrange,f2e2/cRed,f2e3/cYellow,f2f/cGreen,f2f1/cRed,f2f2/cPink}
    \node[knotC,draw=\c] (k\n) at (\n.south east) {};
\end{tikzpicture}
\end{document}
